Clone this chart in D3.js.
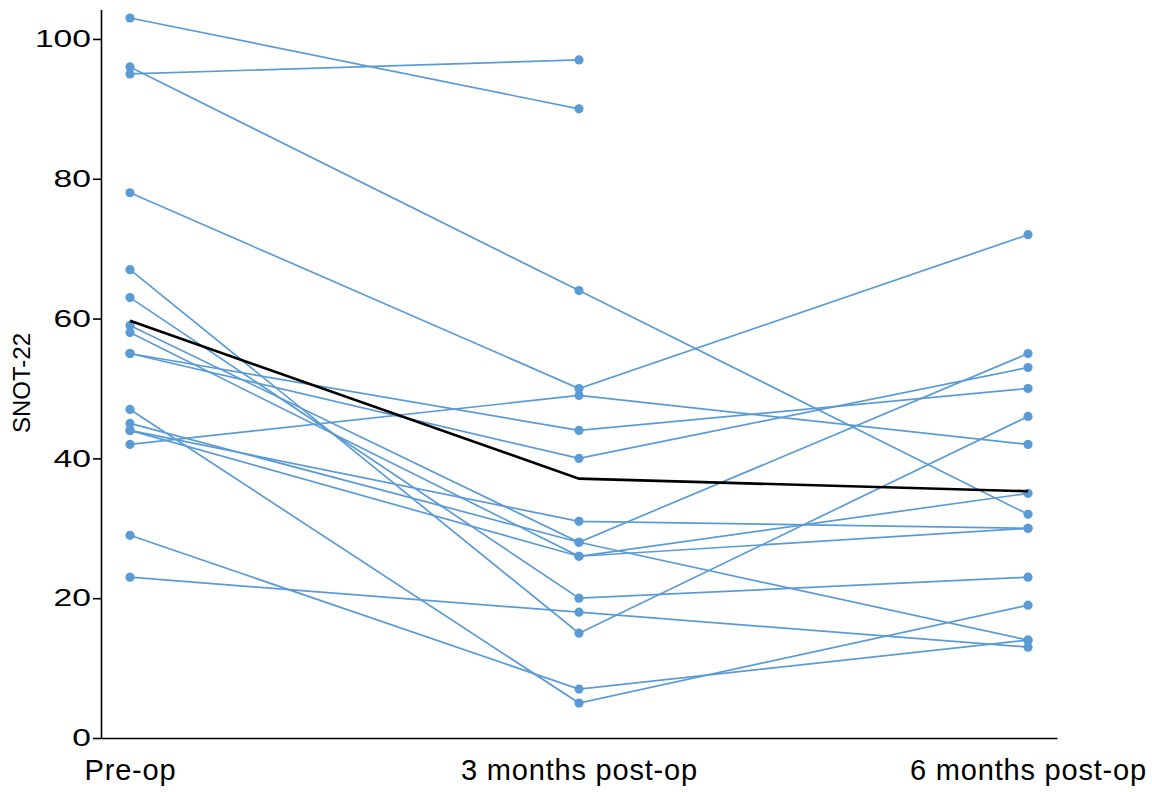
<!DOCTYPE html>
<html>
<head>
<meta charset="utf-8">
<script src="https://cdn.jsdelivr.net/npm/d3@7"></script>
<style>
  body { margin: 0; background: #fff; }
  svg { display: block; font-family: "Liberation Sans", Arial, sans-serif; }
</style>
</head>
<body>
<div id="chart-area"></div>
<script>
// SNOT-22 scores per patient at each visit (null = no visit)
const timepoints = ["Pre-op", "3 months post-op", "6 months post-op"];
const preOp       = [103, 96, 95, 78, 67, 63, 59, 58, 55, 55, 47, 45, 44, 44, 42, 29, 23];
const threeMonths = [ 90, 64, 97, 50, 15, 20, 28, 26, 44, 40,  5, 28, 31, 26, 49,  7, 18];
const sixMonths   = [null, 32, null, 72, 46, 23, 55, 35, 50, 53, 19, 14, 30, 30, 42, 14, 13];
const meanScores  = [59.7, 37.1, 35.3];
const yTicks = [0, 20, 40, 60, 80, 100];

const WIDTH = 1152;
const HEIGHT = 792;
const BLUE = "#5b9bd5";

const svg = d3.select("#chart-area").append("svg")
  .attr("width", WIDTH)
  .attr("height", HEIGHT);

const x = d3.scalePoint()
  .domain(timepoints)
  .range([101, 1057])
  .padding(0.0646);

const y = d3.scaleLinear()
  .domain([0, 104.2])
  .range([738, 9.6]);

// build one row per patient
const patients = preOp.map((v, i) => [preOp[i], threeMonths[i], sixMonths[i]]);

const line = d3.line()
  .defined(d => d != null)
  .x((d, i) => x(timepoints[i]))
  .y(d => y(d));

const g = svg.append("g");

g.selectAll("path.patient")
  .data(patients)
  .enter().append("path")
  .attr("class", "patient")
  .attr("d", line)
  .attr("fill", "none")
  .attr("stroke", BLUE)
  .attr("stroke-width", 1.7);

patients.forEach(p => {
  g.selectAll(null)
    .data(p.map((v, i) => ({ v, i })).filter(d => d.v != null))
    .enter().append("circle")
    .attr("cx", d => x(timepoints[d.i]))
    .attr("cy", d => y(d.v))
    .attr("r", 4.6)
    .attr("fill", BLUE);
});

// mean line
g.append("path")
  .datum(meanScores)
  .attr("d", line)
  .attr("fill", "none")
  .attr("stroke", "#000")
  .attr("stroke-width", 2.6);

// axes
const yAxis = d3.axisLeft(y)
  .tickValues(yTicks)
  .tickSize(8)
  .tickSizeOuter(0)
  .tickPadding(2);

const yAxisGroup = svg.append("g")
  .attr("transform", "translate(101,0)")
  .call(yAxis);

yAxisGroup.select(".domain").attr("stroke-width", 1.6);
yAxisGroup.selectAll(".tick line").attr("stroke-width", 1.6);
// reference numerals are drawn wide
yAxisGroup.selectAll("text")
  .attr("font-size", "24px")
  .attr("font-family", "\"Liberation Sans\", Arial, sans-serif")
  .attr("fill", "#000")
  .attr("textLength", d => String(d).length * 18.7)
  .attr("lengthAdjust", "spacingAndGlyphs");

const xAxis = d3.axisBottom(x)
  .tickSize(0)
  .tickSizeOuter(0)
  .tickPadding(21);

const xAxisGroup = svg.append("g")
  .attr("transform", "translate(0,738)")
  .call(xAxis);

xAxisGroup.select(".domain").attr("stroke-width", 1.6);
xAxisGroup.selectAll("text")
  .attr("font-size", "29px")
  .attr("font-family", "\"Liberation Sans\", Arial, sans-serif")
  .attr("letter-spacing", "0.8px")
  .attr("fill", "#000");

svg.append("text")
  .attr("transform", "translate(30,383) rotate(-90)")
  .attr("text-anchor", "middle")
  .attr("font-size", "24px")
  .text("SNOT-22");
</script>
</body>
</html>
